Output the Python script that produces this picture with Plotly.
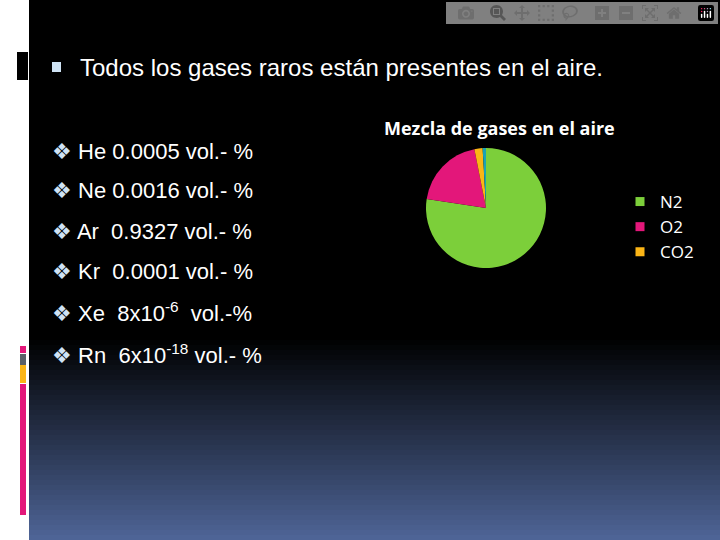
import plotly.graph_objects as go

labels = ["N2", "O2", "CO2", "Ar"]
values = [77.5, 19.5, 2.2, 0.9]
colors = ["#7ccf3a", "#e3177a", "#fbb516", "#1aa3b5"]
legend_labels = ["N2", "O2", "CO2"]

lines = ["He 0.0005 vol.- %", "Ne 0.0016 vol.- %", "Ar  0.9327 vol.- %",
         "Kr  0.0001 vol.- %", "Xe  8x10<sup>-6</sup>  vol.-%", "Rn  6x10<sup>-18</sup> vol.- %"]

fig = go.Figure()
fig.add_trace(go.Pie(labels=labels, values=values, marker=dict(colors=colors, line=dict(width=0)),
                     sort=False, direction="clockwise", rotation=0, textinfo="none",
                     showlegend=False, domain=dict(x=[0.52, 0.83], y=[1-268/540, 1-148/540]),
                     hoverinfo="label+value"))
for lab, c in zip(legend_labels, colors):
    fig.add_trace(go.Scatter(x=[None], y=[None], mode="markers", name=lab,
                             marker=dict(symbol="square", size=9, color=c)))

shapes = [dict(type="rect", xref="paper", yref="paper", x0=0, x1=1, y0=0, y1=1,
               fillcolor="white", line_width=0, layer="below")]
n = 40
top = 200 / 540
for i in range(n):
    y0 = top * i / n
    y1 = top * (i + 1) / n
    t = 1 - i / n
    r = int(t * 78); g = int(t * 100); b = int(t * 150)
    shapes.append(dict(type="rect", xref="paper", yref="paper", x0=29/720, x1=1, y0=y0, y1=y1 + 0.002,
                       fillcolor=f"rgb({r},{g},{b})", line_width=0, layer="below"))
shapes.append(dict(type="rect", xref="paper", yref="paper", x0=29/720, x1=1, y0=top, y1=1,
                   fillcolor="black", line_width=0, layer="below"))
def px(x0, y0, x1, y1, c):
    return dict(type="rect", xref="paper", yref="paper", x0=x0/720, x1=x1/720,
                y0=1-y1/540, y1=1-y0/540, fillcolor=c, line_width=0, layer="below")
shapes += [px(17, 52, 28, 80, "black"), px(20, 346, 26, 353, "#e3177a"),
           px(20, 354, 26, 365, "#5a6068"), px(20, 365, 26, 383, "#fbb516"),
           px(20, 384, 26, 515, "#e3177a"), px(52, 62, 61, 72, "#cfe3f5")]

ann = [dict(x=78/720, y=1-67/540, xref="paper", yref="paper", xanchor="left", yanchor="middle",
            text="Todos los gases raros están presentes en el aire.", showarrow=False,
            font=dict(size=24, color="white", family="Liberation Sans")),
       dict(x=382/720, y=1-128/540, xref="paper", yref="paper", xanchor="left", yanchor="middle",
            text="<b>Mezcla de gases en el aire</b>", showarrow=False,
            font=dict(size=18, color="white", family="Open Sans"))]
ys = [152, 191, 231, 271, 312, 354]
for y, t in zip(ys, lines):
    ann.append(dict(x=50/720, y=1-y/540, xref="paper", yref="paper", xanchor="left", yanchor="middle",
                    text="<span style='color:#cfe3f5'>❖</span> " + t, showarrow=False,
                    font=dict(size=22, color="white", family="Liberation Sans")))

fig.update_layout(width=720, height=540, margin=dict(l=0, r=0, t=0, b=0),
                  paper_bgcolor="white", plot_bgcolor="rgba(0,0,0,0)",
                  xaxis=dict(visible=False), yaxis=dict(visible=False),
                  shapes=shapes, annotations=ann,
                  legend=dict(x=620/720, y=1-184/540, xanchor="left", yanchor="top",
                              bgcolor="rgba(0,0,0,0)", font=dict(size=17, color="white", family="Open Sans"),
                              itemwidth=30, tracegroupgap=4))
fig.write_html("out.html", post_script="document.body.style.margin='0';document.body.style.padding='0';")
